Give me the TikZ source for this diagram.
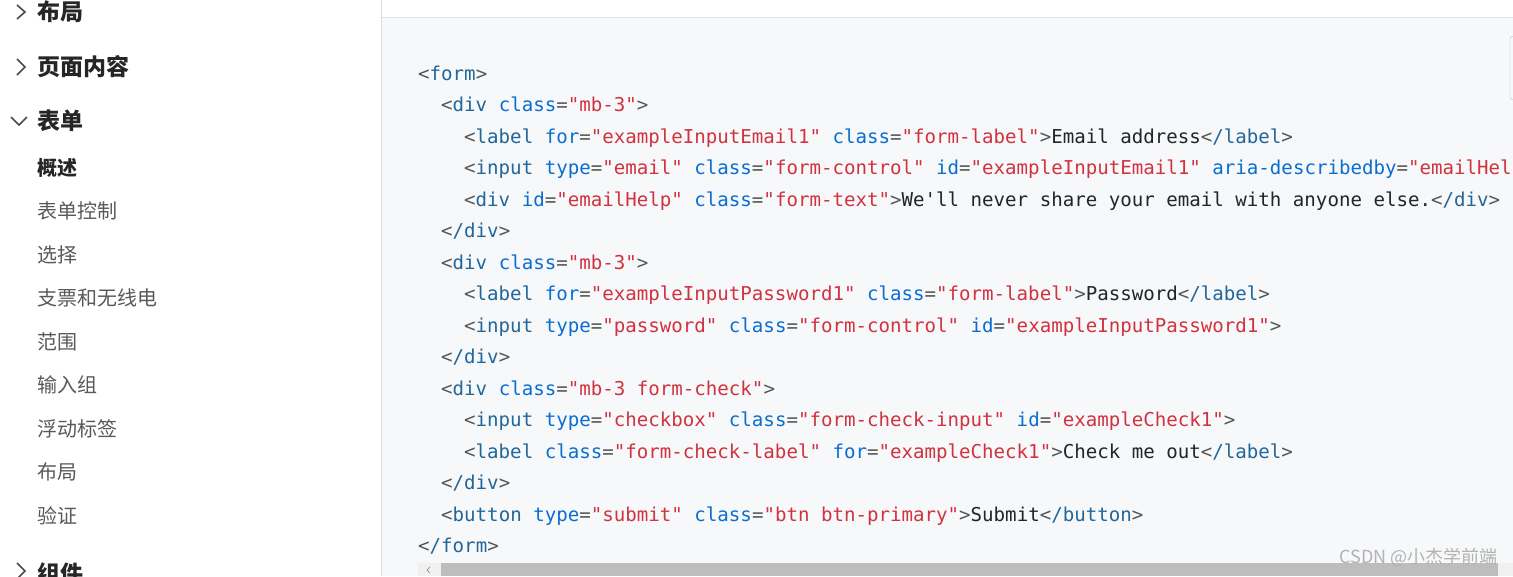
\documentclass[tikz,border=0pt]{standalone}
\usepackage{fontspec}
\setmonofont{DejaVu Sans Mono}
\newfontfamily\cjk{Noto Sans CJK SC}
\definecolor{tagc}{HTML}{22669A}
\definecolor{attc}{HTML}{0A6ED1}
\definecolor{strc}{HTML}{D0323F}
\definecolor{punc}{HTML}{555555}
\definecolor{txtc}{HTML}{212529}
\definecolor{codebg}{HTML}{F7F8FA}
\newcommand\Tg[1]{\textcolor{tagc}{#1}}
\newcommand\At[1]{\textcolor{attc}{#1}}
\newcommand\St[1]{\textcolor{strc}{"#1"}}
\newcommand\Lt{\textcolor{punc}{<}}
\newcommand\Gt{\textcolor{punc}{>}}
\newcommand\Eq{\textcolor{punc}{=}}
\begin{document}
\begin{tikzpicture}[x=1pt,y=-1pt,
  codeline/.style={anchor=base west,inner sep=0,font=\ttfamily\fontsize{19.12}{20}\selectfont,text=txtc},
  head/.style={anchor=west,inner sep=0,font=\cjk\bfseries\fontsize{23}{24}\selectfont,text=black!85},
  item/.style={anchor=west,inner sep=0,font=\cjk\fontsize{20}{22}\selectfont,text=black!65},
  chev/.style={draw=black!70,line width=1.6pt}]
\useasboundingbox (0,0) rectangle (1513,576);
\fill[white] (0,0) rectangle (1513,576);
\fill[codebg] (381,18) rectangle (1513,576);
\draw[black!12] (381,0) -- (381,576);
\draw[black!12] (381,17.5) -- (1513,17.5);
\draw[black!25,rounded corners=3pt] (1513,36) -- (1510,36) -- (1510,100) -- (1513,100);
% scrollbar
\fill[black!6] (418,563) rectangle (1513,576);
\fill[black!26] (441,563) rectangle (1498,576);
\draw[black!50] (430,567) -- (427,570) -- (430,573);
% sidebar
\draw[chev] (17,5) -- (25,12) -- (17,19);
\node[head] (h1) at (37,12) {布局};
\draw[chev] (17,59) -- (25,67) -- (17,75);
\node[head] (h2) at (37,67) {页面内容};
\draw[chev] (11,117) -- (19,125) -- (27,117);
\node[head] (h3) at (37,121) {表单};
\node[item,font=\cjk\bfseries\fontsize{20}{22}\selectfont,text=black!85] (i0) at (37,168) {概述};
\node[item] (i1) at (37,211) {表单控制};
\node[item] (i2) at (37,255) {选择};
\node[item] (i3) at (37,298) {支票和无线电};
\node[item] (i4) at (37,342) {范围};
\node[item] (i5) at (37,385) {输入组};
\node[item] (i6) at (37,429) {浮动标签};
\node[item] (i7) at (37,472) {布局};
\node[item] (i8) at (37,516) {验证};
\draw[chev] (17,563) -- (25,571) -- (17,579);
\node[head] (h4) at (37,574) {组件};
% code
\def\la{418}\def\lb{441}\def\lc{464}
\node[codeline] (c1) at (\la,80) {\Lt\Tg{form}\Gt};
\node[codeline] (c2) at (\lb,111) {\Lt\Tg{div} \At{class}\Eq\St{mb-3}\Gt};
\node[codeline] (c3) at (\lc,143) {\Lt\Tg{label} \At{for}\Eq\St{exampleInputEmail1} \At{class}\Eq\St{form-label}\Gt Email address\Lt\Tg{/label}\Gt};
\node[codeline] (c4) at (\lc,174) {\Lt\Tg{input} \At{type}\Eq\St{email} \At{class}\Eq\St{form-control} \At{id}\Eq\St{exampleInputEmail1} \At{aria-describedby}\Eq\textcolor{strc}{"emailHelp"}\Gt};
\node[codeline] (c5) at (\lc,206) {\Lt\Tg{div} \At{id}\Eq\St{emailHelp} \At{class}\Eq\St{form-text}\Gt We'll never share your email with anyone else.\Lt\Tg{/div}\Gt};
\node[codeline] (c6) at (\lb,237) {\Lt\Tg{/div}\Gt};
\node[codeline] (c7) at (\lb,269) {\Lt\Tg{div} \At{class}\Eq\St{mb-3}\Gt};
\node[codeline] (c8) at (\lc,300) {\Lt\Tg{label} \At{for}\Eq\St{exampleInputPassword1} \At{class}\Eq\St{form-label}\Gt Password\Lt\Tg{/label}\Gt};
\node[codeline] (c9) at (\lc,332) {\Lt\Tg{input} \At{type}\Eq\St{password} \At{class}\Eq\St{form-control} \At{id}\Eq\St{exampleInputPassword1}\Gt};
\node[codeline] (c10) at (\lb,363) {\Lt\Tg{/div}\Gt};
\node[codeline] (c11) at (\lb,395) {\Lt\Tg{div} \At{class}\Eq\St{mb-3 form-check}\Gt};
\node[codeline] (c12) at (\lc,426) {\Lt\Tg{input} \At{type}\Eq\St{checkbox} \At{class}\Eq\St{form-check-input} \At{id}\Eq\St{exampleCheck1}\Gt};
\node[codeline] (c13) at (\lc,458) {\Lt\Tg{label} \At{class}\Eq\St{form-check-label} \At{for}\Eq\St{exampleCheck1}\Gt Check me out\Lt\Tg{/label}\Gt};
\node[codeline] (c14) at (\lb,489) {\Lt\Tg{/div}\Gt};
\node[codeline] (c15) at (\lb,521) {\Lt\Tg{button} \At{type}\Eq\St{submit} \At{class}\Eq\St{btn btn-primary}\Gt Submit\Lt\Tg{/button}\Gt};
\node[codeline] (c16) at (\la,552) {\Lt\Tg{/form}\Gt};
\node[anchor=east,inner sep=0,font=\cjk\fontsize{18}{18}\selectfont,text=black!30] (wm) at (1498,557) {CSDN @小杰学前端};
\end{tikzpicture}
\end{document}
